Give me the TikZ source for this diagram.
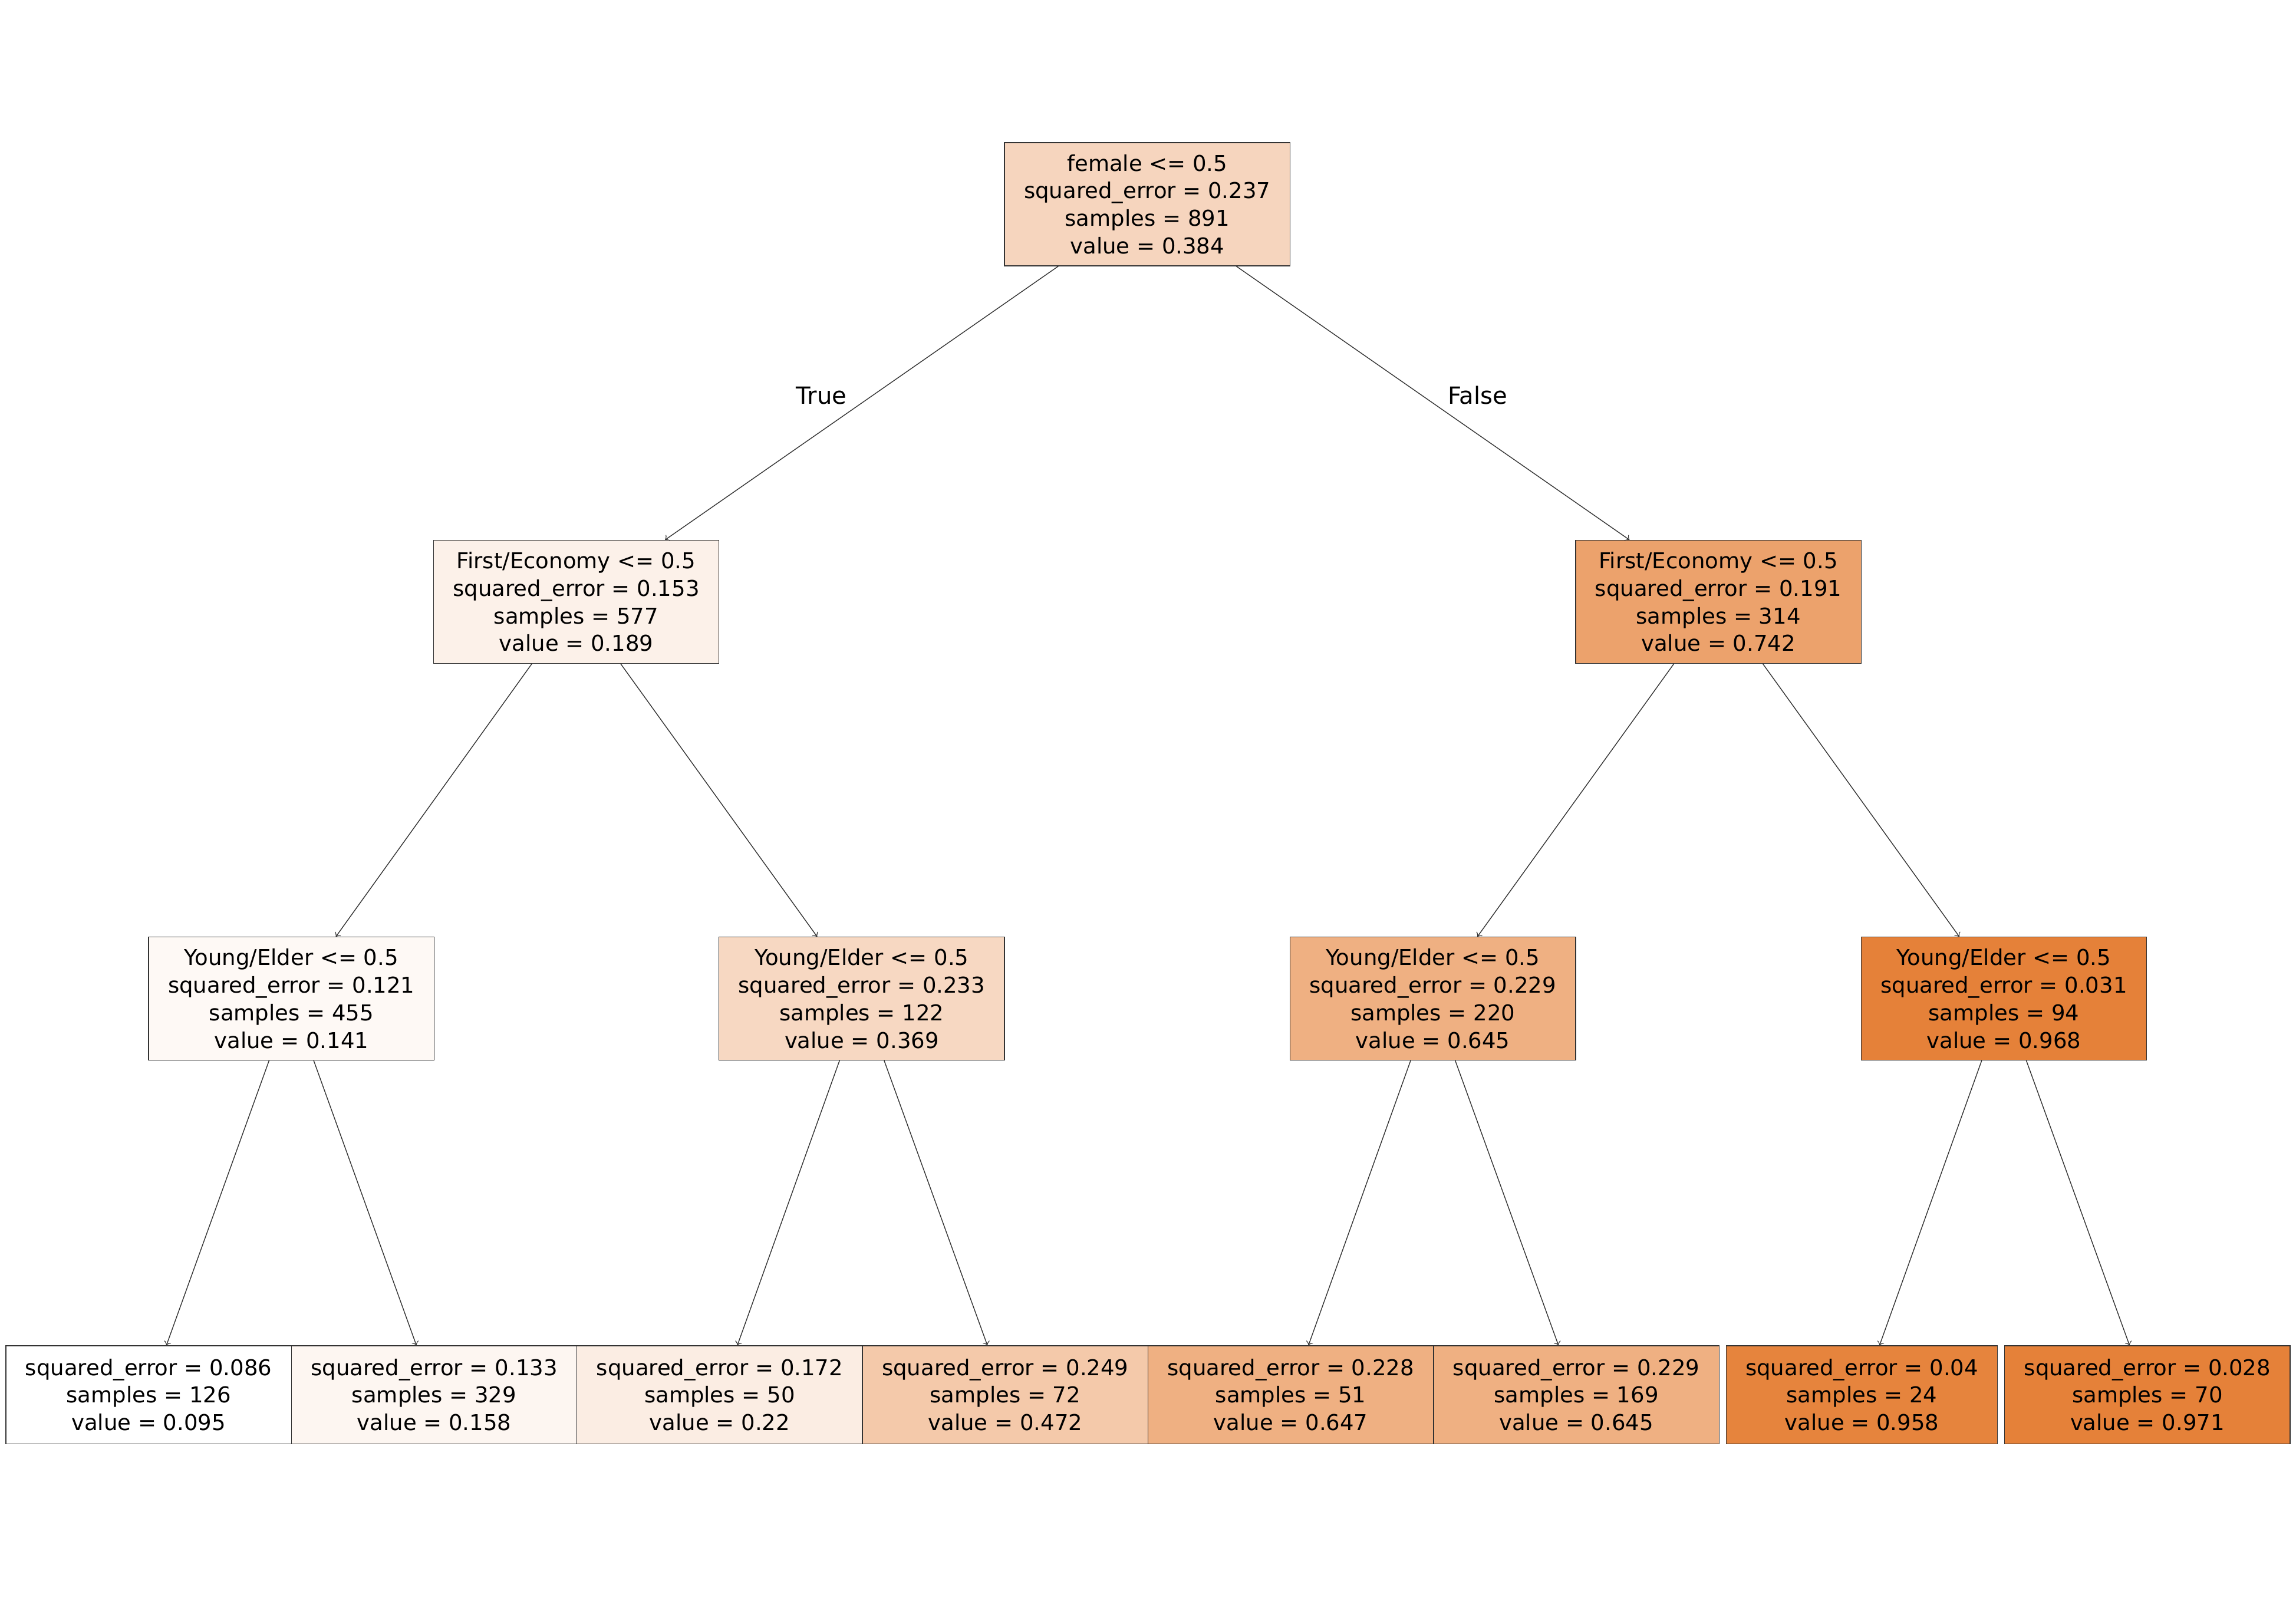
\documentclass[tikz,border=0pt]{standalone}
\usepackage{fontspec}
\setmainfont{DejaVu Sans}
\definecolor{org}{HTML}{E58139}
\begin{document}
\begin{tikzpicture}[x=0.025cm,y=-0.025cm,
  tn/.style={draw=black!80,line width=0.4pt,inner sep=0pt,align=center,font=\fontsize{10.6}{13.4}\selectfont,minimum height=2.1cm},
  lf/.style={tn,minimum height=1.675cm},
  conn/.style={->,line width=0.4pt,black!80},
  lab/.style={font=\fontsize{11.5}{13}\selectfont}]
\useasboundingbox (0,0) rectangle (1568,1093);
\node[tn,minimum width=4.875cm,fill=org!33!white] (r) at (783.5,139.5) {female <= 0.5\\squared\_error = 0.237\\samples = 891\\value = 0.384};
\node[tn,minimum width=4.875cm,fill=org!11!white] (a) at (393.5,411) {First/Economy <= 0.5\\squared\_error = 0.153\\samples = 577\\value = 0.189};
\node[tn,minimum width=4.875cm,fill=org!74!white] (b) at (1173.5,411) {First/Economy <= 0.5\\squared\_error = 0.191\\samples = 314\\value = 0.742};
\node[tn,minimum width=4.875cm,fill=org!5!white] (c) at (199,682) {Young/Elder <= 0.5\\squared\_error = 0.121\\samples = 455\\value = 0.141};
\node[tn,minimum width=4.875cm,fill=org!31!white] (d) at (588.5,682) {Young/Elder <= 0.5\\squared\_error = 0.233\\samples = 122\\value = 0.369};
\node[tn,minimum width=4.875cm,fill=org!63!white] (e) at (978.5,682) {Young/Elder <= 0.5\\squared\_error = 0.229\\samples = 220\\value = 0.645};
\node[tn,minimum width=4.875cm,fill=org!100!white] (f) at (1368.5,682) {Young/Elder <= 0.5\\squared\_error = 0.031\\samples = 94\\value = 0.968};
\node[lf,minimum width=4.875cm,fill=white] (l1) at (101.5,952.5) {squared\_error = 0.086\\samples = 126\\value = 0.095};
\node[lf,minimum width=4.875cm,fill=org!7!white] (l2) at (296.5,952.5) {squared\_error = 0.133\\samples = 329\\value = 0.158};
\node[lf,minimum width=4.875cm,fill=org!14!white] (l3) at (491.5,952.5) {squared\_error = 0.172\\samples = 50\\value = 0.22};
\node[lf,minimum width=4.875cm,fill=org!43!white] (l4) at (686.5,952.5) {squared\_error = 0.249\\samples = 72\\value = 0.472};
\node[lf,minimum width=4.875cm,fill=org!63!white] (l5) at (881.5,952.5) {squared\_error = 0.228\\samples = 51\\value = 0.647};
\node[lf,minimum width=4.875cm,fill=org!63!white] (l6) at (1076.5,952.5) {squared\_error = 0.229\\samples = 169\\value = 0.645};
\node[lf,minimum width=4.625cm,fill=org!98!white] (l7) at (1271.5,952.5) {squared\_error = 0.04\\samples = 24\\value = 0.958};
\node[lf,minimum width=4.875cm,fill=org] (l8) at (1466.5,952.5) {squared\_error = 0.028\\samples = 70\\value = 0.971};
\draw[conn] (r) -- (a);
\draw[conn] (r) -- (b);
\draw[conn] (a) -- (c);
\draw[conn] (a) -- (d);
\draw[conn] (b) -- (e);
\draw[conn] (b) -- (f);
\draw[conn] (c) -- (l1);
\draw[conn] (c) -- (l2);
\draw[conn] (d) -- (l3);
\draw[conn] (d) -- (l4);
\draw[conn] (e) -- (l5);
\draw[conn] (e) -- (l6);
\draw[conn] (f) -- (l7);
\draw[conn] (f) -- (l8);
\node[lab] (t) at (561,270) {True};
\node[lab] (fl) at (1009,270) {False};
\end{tikzpicture}
\end{document}
